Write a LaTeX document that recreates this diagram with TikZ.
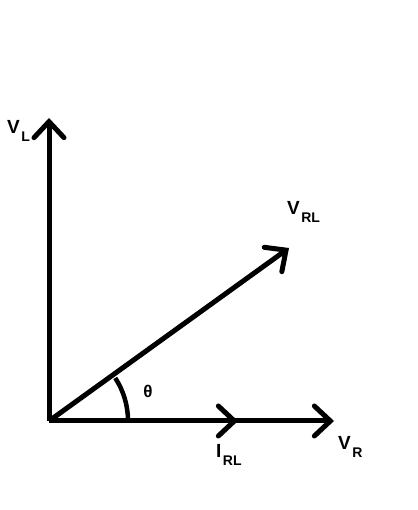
\documentclass[tikz,border=0pt]{standalone}
\usepackage{fontspec}
\setmainfont{Liberation Sans}
\usetikzlibrary{arrows.meta,calc}
\tikzset{>={Straight Barb[length=16pt,width=30pt,line cap=round]}}
\newcommand{\lowsub}[1]{\kern1.5pt\raisebox{-8pt}{\fontsize{14}{14}\selectfont #1}}

\begin{document}
\begin{tikzpicture}[x=1pt,y=1pt,vec/.style={line width=5pt,->},
  lab/.style={inner sep=0pt,anchor=base west,font=\fontsize{19}{19}\selectfont\bfseries}]
\useasboundingbox (0,0) rectangle (417,510);
\coordinate (O) at (49,89);
\coordinate (L) at (49,392);
\coordinate (R) at (334,89);
\coordinate (I) at (238,89);
\coordinate (RL) at (289,262);
\draw[vec] (O) -- (L);
\draw[vec] (O) -- (R);
\draw[vec] (O) -- (I);
\draw[vec] (O) -- (RL);
\draw[line width=4.5pt] ($(O)+(79,0)$) arc[start angle=0,end angle=33,radius=79];
\node[lab] (vl) at (7,376) {V\lowsub{L}};
\node[lab] (vrl) at (287,295) {V\lowsub{RL}};
\node[lab] (irl) at (216,52) {I\lowsub{RL}};
\node[lab] (vr) at (338,60) {V\lowsub{R}};
\node[font=\fontsize{17}{17}\selectfont\bfseries] (th) at (148,119) {θ};
\end{tikzpicture}
\end{document}
